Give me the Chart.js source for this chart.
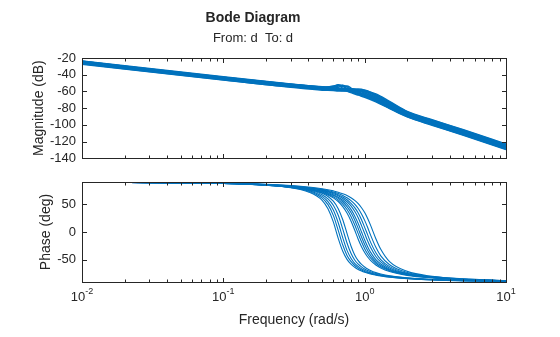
<!DOCTYPE html>
<html>
<head>
<meta charset="utf-8">
<script src="https://cdn.jsdelivr.net/npm/chart.js@4.4.1/dist/chart.umd.min.js"></script>
<style>
  body { margin: 0; background: #fff; width: 560px; height: 337px; overflow: hidden; position: relative; }
  canvas { position: absolute; left: 0; }
  #magChart { top: 0; }
  #phaseChart { top: 168px; }
</style>
</head>
<body>
<canvas id="magChart" width="560" height="172"></canvas>
<canvas id="phaseChart" width="560" height="169"></canvas>
<script>
// frequencies (rad/s) the samples were read at
const magFreq = [0.01, 0.1, 0.3, 0.5, 0.6, 0.65, 0.7, 0.75, 0.8, 0.9, 1.0, 1.2, 1.5, 2, 3, 5, 10];
const phaseFreq = [0.01, 0.1, 0.2, 0.3, 0.4, 0.5, 0.55, 0.6, 0.65, 0.7, 0.75, 0.8, 0.85, 0.9, 0.95,
                   1.0, 1.05, 1.1, 1.2, 1.3, 1.5, 2, 3, 5, 10];

// magnitude (dB), one row per sampled model
const magSamples = [
  [-27, -46, -54.5, -56, -53.5, -52.5, -56.5, -59.5, -61.5, -64.5, -67, -72.5, -80.5, -90.5, -100.5, -112.5, -129.5],
  [-26, -45, -53.5, -55.5, -54, -52, -54, -58, -60.5, -63.5, -66, -71.5, -80, -90, -100, -112, -129],
  [-25, -44, -52.5, -55, -54.5, -52.5, -53, -56.5, -59.5, -62.5, -65, -71, -79.5, -89.5, -99.5, -111.5, -128.5],
  [-24, -43, -51.5, -54.5, -55, -53.5, -52.5, -54.5, -58, -61.5, -64, -70, -78.5, -89, -99, -111, -128],
  [-26.5, -45.5, -54, -56.5, -56.5, -55, -54, -53.5, -56, -60.5, -63.5, -69.5, -78, -88.5, -98.5, -110.5, -127.5],
  [-24.5, -43.5, -52, -55.5, -56, -56.5, -57, -57, -57, -58.5, -62, -68.5, -77, -87.5, -97.5, -109.5, -126.5],
  [-27.5, -46.5, -55, -58.5, -59, -59.5, -59.5, -59.5, -59.5, -59.5, -62, -68, -76.5, -87, -97, -109, -126],
  [-25.5, -44.5, -53, -56.5, -57, -57.5, -57.5, -58, -58, -58, -60.5, -67, -75.5, -86.5, -96.5, -108.5, -125.5],
  [-23.5, -42.5, -51, -55, -56, -56.5, -57, -57, -57, -57, -58.5, -66, -75, -86, -96, -108, -125],
  [-26.5, -45.5, -54, -57.5, -58, -58.5, -59, -59, -59, -59, -59.5, -65, -74.5, -85.5, -95.5, -107.5, -124.5],
  [-25, -44, -52.5, -56, -57, -57.5, -58, -58.5, -58.5, -58.5, -58.5, -64.5, -74, -85, -95, -107, -124],
  [-26, -45, -53.5, -57, -58, -58.5, -59, -59.5, -60, -60, -60, -64, -73, -84.5, -94.5, -106.5, -123.5],
  [-24, -43, -51.5, -55, -56.5, -57, -57.5, -58, -58.5, -59, -59.5, -63, -72, -84, -94, -106, -123]
];

// phase (deg), same models
const phaseSamples = [
  [89.7, 87.2, 84.0, 79.6, 72.2, 57.1, 41.7, 18.1, -11.5, -34.8, -49.2, -58.0, -63.4, -67.5, -70.4, -72.6, -74.2, -75.6, -77.6, -79.2, -81.3, -84.0, -86.2, -87.8, -88.9],
  [89.7, 87.3, 84.3, 80.1, 73.6, 61.1, 49.2, 29.9, 3.0, -23.5, -42.1, -53.0, -60.3, -64.9, -68.3, -70.9, -73.0, -74.5, -76.8, -78.5, -80.7, -83.7, -86.0, -87.7, -88.9],
  [89.7, 87.4, 84.5, 80.7, 74.9, 64.2, 54.6, 39.5, 16.6, -10.5, -33.1, -47.1, -56.3, -62.0, -66.2, -69.1, -71.4, -73.3, -75.9, -77.7, -80.2, -83.4, -85.8, -87.6, -88.8],
  [89.7, 87.6, 84.8, 81.2, 76.1, 67.2, 59.6, 48.3, 30.2, 5.3, -19.8, -38.2, -50.3, -57.8, -62.8, -66.7, -69.4, -71.5, -74.7, -76.8, -79.5, -83.0, -85.6, -87.5, -88.8],
  [89.7, 87.7, 85.0, 81.8, 77.2, 69.8, 64.0, 55.4, 42.0, 22.1, -2.5, -25.1, -41.2, -51.6, -58.4, -63.0, -66.7, -69.3, -73.1, -75.6, -78.8, -82.5, -85.4, -87.3, -88.7],
  [89.7, 87.3, 84.3, 80.9, 76.7, 70.6, 66.5, 61.4, 54.9, 45.8, 34.2, 19.8, 3.5, -12.9, -26.5, -37.0, -45.0, -51.1, -59.4, -64.8, -71.1, -78.0, -82.7, -86.0, -88.0],
  [89.7, 87.4, 84.6, 81.3, 77.3, 71.9, 68.1, 63.6, 57.9, 50.3, 40.5, 28.0, 12.9, -3.0, -17.7, -30.1, -39.5, -46.7, -56.2, -62.6, -69.8, -77.4, -82.3, -85.9, -87.9],
  [89.7, 87.5, 84.8, 81.7, 77.9, 72.9, 69.5, 65.6, 60.5, 54.0, 45.6, 35.0, 21.7, 6.3, -9.0, -22.4, -33.2, -42.0, -53.3, -60.3, -68.5, -76.9, -81.9, -85.6, -87.9],
  [89.7, 87.6, 85.0, 82.0, 78.4, 73.7, 70.7, 67.1, 62.7, 57.1, 50.0, 40.7, 29.0, 15.2, 0.0, -14.4, -26.5, -36.2, -49.6, -57.6, -67.0, -76.2, -81.9, -85.4, -87.8],
  [89.8, 87.7, 85.1, 82.4, 79.1, 74.9, 72.2, 69.0, 65.3, 60.4, 54.5, 47.0, 37.2, 25.7, 11.5, -2.7, -16.3, -27.6, -44.0, -53.9, -64.9, -75.3, -81.6, -85.3, -87.7],
  [89.8, 87.8, 85.3, 82.7, 79.6, 75.8, 73.4, 70.5, 67.2, 63.1, 58.1, 51.7, 44.0, 34.2, 22.2, 8.4, -5.2, -18.2, -37.2, -49.6, -62.3, -74.5, -81.1, -85.0, -87.6],
  [89.8, 87.9, 85.6, 83.1, 80.2, 76.8, 74.6, 72.1, 69.3, 65.9, 61.7, 56.6, 50.2, 42.3, 32.4, 20.9, 8.1, -5.2, -27.6, -43.0, -59.0, -72.9, -80.4, -84.8, -87.5],
  [89.8, 88.0, 85.9, 83.6, 81.0, 77.9, 76.1, 74.0, 71.7, 68.8, 65.7, 61.6, 56.9, 50.9, 43.7, 35.0, 24.3, 12.4, -12.0, -31.1, -53.3, -70.9, -79.7, -84.3, -87.3]
];

// axis ticks
const magTicks = [-140, -120, -100, -80, -60, -40, -20];
const phaseTicks = [-50, 0, 50];
const freqDecades = [0.01, 0.1, 1, 10];
const freqExponents = ['-2', '-1', '0', '1'];
const minorSteps = [2, 3, 4, 5, 6, 7, 8, 9];

const fontFam = "'Liberation Sans', Arial, Helvetica, sans-serif";
const ink = '#262626';
const blue = 'rgb(0,114,189)';

// MATLAB-style box with inward ticks on all four sides
const boxTicks = {
    id: 'boxTicks',
    afterDatasetsDraw(chart, args, opts) {
        const {ctx, chartArea: a, scales: {x, y}} = chart
        const L = Math.floor(a.left) + 0.5, R = Math.floor(a.right) + 0.5
        const T = Math.floor(a.top) + 0.5, B = Math.floor(a.bottom) + 0.5
        ctx.save()
        ctx.strokeStyle = ink
        ctx.lineWidth = 1
        ctx.strokeRect(L, T, R - L, B - T)
        ctx.beginPath()
        const xTick = (v, len) => {
            const px = Math.round(x.getPixelForValue(v)) + 0.5
            ctx.moveTo(px, B); ctx.lineTo(px, B - len)
            ctx.moveTo(px, T); ctx.lineTo(px, T + len)
        }
        freqDecades.forEach(d => {
            xTick(d, 4.5)
            if (d < 10) minorSteps.forEach(k => xTick(k * d, 3))
        })
        opts.yTicks.forEach(v => {
            const py = Math.round(y.getPixelForValue(v)) + 0.5
            ctx.moveTo(L, py); ctx.lineTo(L + 4.5, py)
            ctx.moveTo(R, py); ctx.lineTo(R - 4.5, py)
        })
        ctx.stroke()

        //etiquetas 10^n debajo del eje
        if (opts.xLabels) {
            ctx.fillStyle = ink
            ctx.textBaseline = 'middle'
            ctx.textAlign = 'left'
            freqDecades.forEach((d, i) => {
                ctx.font = '13px ' + fontFam
                const wBase = ctx.measureText('10').width
                ctx.font = '9px ' + fontFam
                const wExp = ctx.measureText(freqExponents[i]).width
                const x0 = x.getPixelForValue(d) - (wBase + wExp) / 2
                ctx.font = '13px ' + fontFam
                ctx.fillText('10', x0, a.bottom + 15)
                ctx.font = '9px ' + fontFam
                ctx.fillText(freqExponents[i], x0 + wBase, a.bottom + 9.5)
            })
        }
        ctx.restore()
    }
}

function makeSets(freqs, rows, width) {
    return rows.map(row => ({
        data: row.map((v, i) => ({x: freqs[i], y: v})),
        borderColor: blue,
        borderWidth: width,
        pointRadius: 0,
        fill: false,
        cubicInterpolationMode: 'monotone'
    }))
}

function yAxis(min, max, ticks, label, titlePad) {
    return {
        min: min,
        max: max,
        afterBuildTicks: s => { s.ticks = ticks.map(v => ({value: v})) },
        afterFit: s => { s.width = 82 },
        grid: {display: false, drawTicks: false},
        border: {display: false},
        ticks: {color: ink, font: {family: fontFam, size: 13}, padding: 6, autoSkip: false},
        title: {display: true, text: label, color: ink, font: {family: fontFam, size: 14}, padding: {top: titlePad, bottom: 0}}
    }
}

const common = {
    responsive: false,
    animation: false,
    events: [],
}

//Grafico de magnitud
new Chart(document.getElementById('magChart'), {
    type: 'line',
    data: {datasets: makeSets(magFreq, magSamples, 1.5)},
    options: {
        ...common,
        layout: {padding: {left: 0, right: 54, top: 0, bottom: 0}},
        plugins: {
            legend: {display: false},
            tooltip: {enabled: false},
            title: {display: true, text: 'Bode Diagram', color: ink,
                    font: {family: fontFam, size: 14, weight: 'bold'}, padding: {top: 10, bottom: 3.4}},
            subtitle: {display: true, text: 'From: d  To: d', color: ink,
                       font: {family: fontFam, size: 13}, padding: {top: 0, bottom: 12.2}},
            boxTicks: {yTicks: magTicks, xLabels: false}
        },
        scales: {
            x: {type: 'logarithmic', min: 0.01, max: 10, display: false},
            y: yAxis(-140, -20, magTicks, 'Magnitude (dB)', 30.6)
        }
    },
    plugins: [boxTicks]
});

//Grafico de fase
new Chart(document.getElementById('phaseChart'), {
    type: 'line',
    data: {datasets: makeSets(phaseFreq, phaseSamples, 1.1)},
    options: {
        ...common,
        layout: {padding: {left: 0, right: 54, top: 14, bottom: 0}},
        plugins: {
            legend: {display: false},
            tooltip: {enabled: false},
            boxTicks: {yTicks: phaseTicks, xLabels: true}
        },
        scales: {
            x: {
                type: 'logarithmic', min: 0.01, max: 10,
                grid: {display: false, drawTicks: false},
                border: {display: false},
                ticks: {display: false},
                title: {display: true, text: 'Frequency (rad/s)', color: ink,
                        font: {family: fontFam, size: 14}, padding: {top: 29.6, bottom: 8.6}}
            },
            y: yAxis(-90, 90, phaseTicks, 'Phase (deg)', 37.6)
        }
    },
    plugins: [boxTicks]
});
</script>
</body>
</html>
